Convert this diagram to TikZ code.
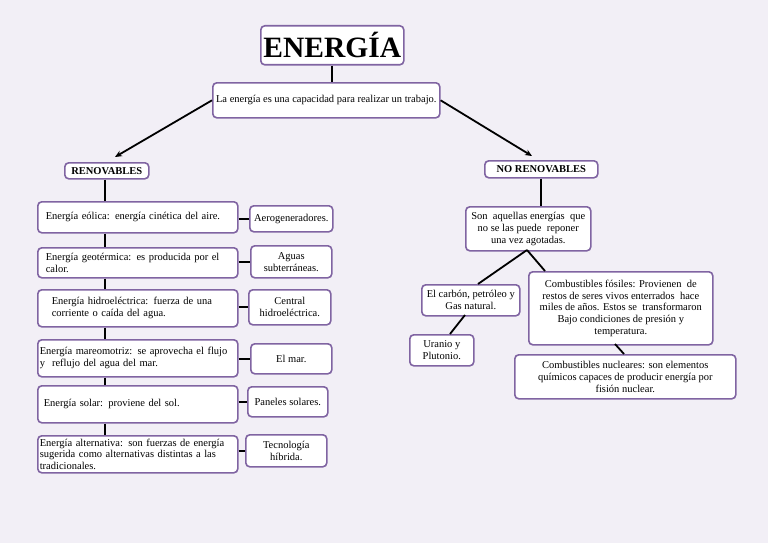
\documentclass[tikz,border=0pt]{standalone}
\usepackage{fontspec}
\setmainfont{Liberation Serif}
\usetikzlibrary{arrows.meta}
\definecolor{bg}{HTML}{F2EFF6}
\definecolor{pb}{HTML}{8064A2}
\begin{document}
\begin{tikzpicture}[x=1pt,y=-1pt,
 bx/.style={draw=pb,line width=1.6pt,fill=white,rounded corners=4pt,inner sep=1pt,font=\fontsize{10.5}{11.8}\selectfont,align=center},
 ln/.style={line width=1.8pt,black},
 ar/.style={ln,-{Stealth[length=7pt,width=6pt]}}]
\fill[bg] (0,0) rectangle (768,543);
\useasboundingbox (0,0) rectangle (768,543);
\newcommand{\bb}[6]{\node[bx,minimum width=#4-#2,minimum height=#5-#3,anchor=north west] (#1) at (#2,#3) {#6};}
\bb{t}{260}{25}{403}{64}{\fontsize{29.5}{31}\selectfont\bfseries ENERGÍA}
\bb{d}{212}{82}{439}{117}{La energía es una capacidad para realizar un trabajo.}
\bb{r}{64}{162}{148}{178}{\bfseries RENOVABLES}
\bb{n}{484}{160}{597}{177}{\bfseries NO RENOVABLES}
\begin{scope}[bx/.append style={align=left,text width=196pt}]
\bb{l1}{37}{201}{237}{232}{\hspace*{6pt}Energía eólica: energía cinética del aire.}
\bb{l2}{37}{247}{237}{277}{\hspace*{6pt}Energía geotérmica: es producida por el\\\hspace*{6pt}calor.}
\bb{l3}{37}{289}{237}{326}{\hspace*{12pt}Energía hidroeléctrica: fuerza de una\\\hspace*{12pt}corriente o caída del agua.}
\bb{l4}{37}{339}{237}{376}{Energía mareomotriz: se aprovecha el flujo\\y\ \ reflujo del agua del mar.}
\bb{l5}{37}{385}{237}{422}{\hspace*{4pt}Energía solar: proviene del sol.}
\bb{l6}{37}{435}{237}{472}{Energía alternativa: son fuerzas de energía\\sugerida como alternativas distintas a las\\tradicionales.}
\end{scope}
\bb{r1}{249}{205}{332}{231}{Aerogeneradores.}
\bb{r2}{250}{245}{331}{277}{Aguas\\ subterráneas.}
\bb{r3}{248}{289}{330}{324}{Central\\ hidroeléctrica.}
\bb{r4}{250}{343}{331}{373}{El mar.}
\bb{r5}{247}{386}{327}{416}{Paneles solares.}
\bb{r6}{245}{434}{326}{466}{Tecnología\\ híbrida.}
\bb{s}{465}{206}{590}{250}{Son\ \ aquellas energías\ \ que\\no se las puede\ \ reponer\\una vez agotadas.}
\bb{c}{421}{284}{519}{315}{El carbón, petróleo y\\Gas natural.}
\bb{u}{409}{334}{473}{365}{Uranio y\\ Plutonio.}
\bb{f}{528}{271}{712}{344}{Combustibles fósiles: Provienen\ \ de\\restos de seres vivos enterrados\ \ hace\\miles de años. Estos se\ \ transformaron\\Bajo condiciones de presión y\\temperatura.}
\bb{nu}{514}{354}{735}{398}{Combustibles nucleares: son elementos\\químicos capaces de producir energía por\\fisión nuclear.}
\draw[ln] (t.south) -- (d.north -| t.south);
\draw[ar] (d.west) -- (115,157);
\draw[ar] (d.east) -- (532,156);
\draw[ln] (r.south -| 105,0) -- (l1.north -| 105,0);
\foreach \a/\b in {l1/l2,l2/l3,l3/l4,l4/l5,l5/l6}{\draw[ln] (\a.south -| 105,0) -- (\b.north -| 105,0);}
\foreach \a/\b in {l1/r1,l2/r2,l3/r3,l4/r4,l5/r5,l6/r6}{\draw[ln] (\a.east |- \b.west) -- (\b.west);}
\draw[ln] (n.south -| 541,0) -- (s.north -| 541,0);
\draw[ln] (527,250) -- (478,284);
\draw[ln] (527,250) -- (545,271);
\draw[ln] (465,315) -- (450,334);
\draw[ln] (615,344) -- (624,354);
\end{tikzpicture}
\end{document}
